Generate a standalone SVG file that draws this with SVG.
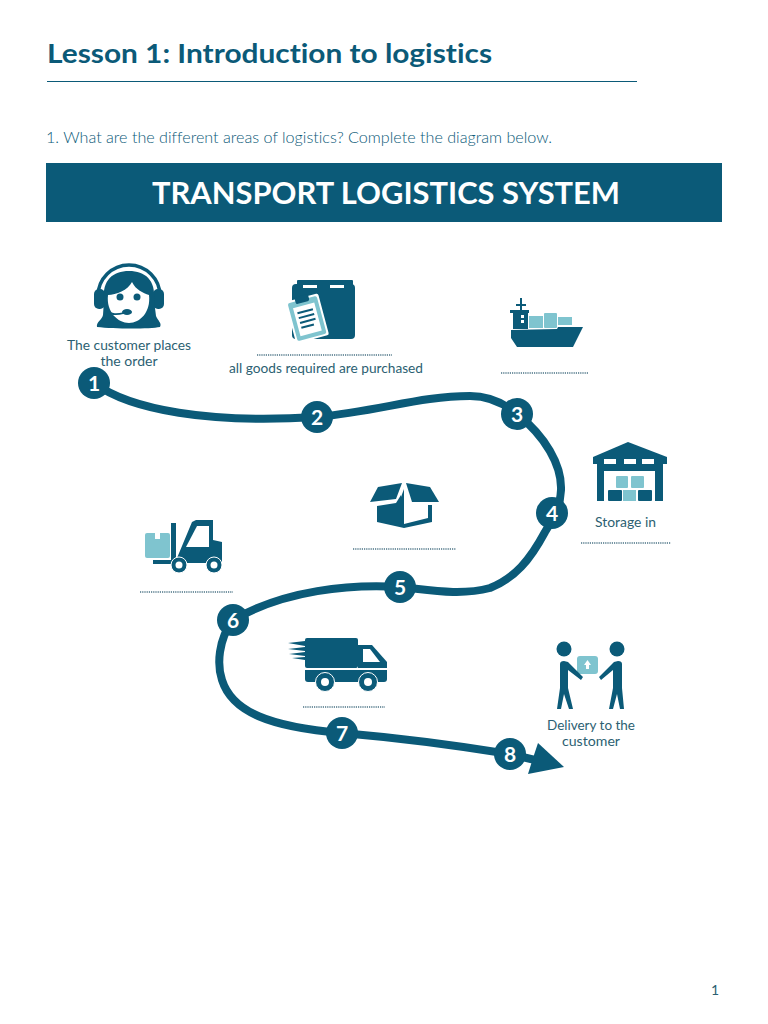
<svg xmlns="http://www.w3.org/2000/svg" width="768" height="1024" viewBox="0 0 768 1024">
<style>
text{font-variant-ligatures:none}
.d{fill:#0b5a78}.l{fill:#7fc4cf}.w{fill:#fff}
.t{font-family:Lato,"Liberation Sans",sans-serif;fill:#2c5f72;font-size:14px;text-anchor:middle}
.n{font-family:Lato,"Liberation Sans",sans-serif;font-weight:700;font-size:21px;fill:#fff;text-anchor:middle}
.dot{stroke:#4c7486;stroke-width:1.6;stroke-dasharray:1.2 1;fill:none}
.ds{fill:none;stroke:#0b5a78}
</style>
<rect width="768" height="1024" fill="#fff"/>
<text x="47" y="63" font-family="Lato,'Liberation Sans',sans-serif" font-weight="700" font-size="27" fill="#0b5a78" textLength="445" lengthAdjust="spacingAndGlyphs">Lesson 1: Introduction to logistics</text>
<line x1="47" y1="81.500" x2="637" y2="81.500" stroke="#0b5a78" stroke-width="1"/>
<text x="46" y="143" font-family="Lato,'Liberation Sans',sans-serif" font-weight="300" font-size="16.500" fill="#0b5a78" textLength="506" lengthAdjust="spacingAndGlyphs">1. What are the different areas of logistics? Complete the diagram below.</text>
<g id="banner">
<rect x="46" y="163" width="676" height="59" fill="#0b5a78"/>
<text x="386" y="204" font-family="Lato,'Liberation Sans',sans-serif" font-weight="700" font-size="31" fill="#fff" text-anchor="middle" textLength="468" lengthAdjust="spacingAndGlyphs">TRANSPORT LOGISTICS SYSTEM</text>
</g>
<g id="connectors">
<path d="M94 383C130 410 210 424 317 417C380 411 420 396 470 396C490 396 505 404 517 414C545 436 562 465 561 490C560 510 552 520 545 532C530 560 515 578 490 588C460 596 430 590 400 587C350 584 285 590 233 620C218 640 217 665 222 680C232 712 270 727 342 733C400 738 460 746 510 754L535 760" fill="none" stroke="#0b5a78" stroke-width="8" stroke-linecap="round"/>
<polygon class="d" points="538,743 564,767 528,774 533,758"/>
</g>
<g id="step1"><circle class="d" cx="94" cy="383" r="16"/><text class="n" x="94" y="391">1</text></g>
<g id="step2"><circle class="d" cx="317" cy="417" r="16"/><text class="n" x="317" y="425">2</text></g>
<g id="step3"><circle class="d" cx="517" cy="414" r="16"/><text class="n" x="517" y="422">3</text></g>
<g id="step4"><circle class="d" cx="552" cy="513" r="16"/><text class="n" x="552" y="521">4</text></g>
<g id="step5"><circle class="d" cx="400" cy="587" r="16"/><text class="n" x="400" y="595">5</text></g>
<g id="step6"><circle class="d" cx="233" cy="620" r="16"/><text class="n" x="233" y="628">6</text></g>
<g id="step7"><circle class="d" cx="342" cy="733" r="16"/><text class="n" x="342" y="741">7</text></g>
<g id="step8"><circle class="d" cx="510" cy="754" r="16"/><text class="n" x="510" y="762">8</text></g>

<g id="customer">
<path class="ds" stroke-width="3.500" d="M98 296A31 31 0 0 1 160 296"/>
<rect class="d" x="94" y="289" width="11" height="20" rx="5"/>
<rect class="d" x="153" y="289" width="11" height="20" rx="5"/>
<path class="d" d="M104 300C102 280 113 271 129 271C145 271 156 280 154 300L156 316C158 321 162 323 160 327C150 329 115 329 97 327C96 322 102 320 103 315Z"/>
<path class="w" d="M108 295C116 295 128 290 132 282C136 290 143 293 149 295C151 312 140 323 129 323C118 323 106 312 108 295Z"/>
<circle class="d" cx="120" cy="297" r="3.500"/><circle class="d" cx="137" cy="297" r="3.500"/>
<path class="ds" stroke-width="1.800" d="M106 309C110 315 116 315 124 313"/>
<ellipse class="d" cx="127" cy="312" rx="5" ry="3"/>
<text class="t" x="129" y="350" textLength="124" lengthAdjust="spacingAndGlyphs">The customer places</text>
<text class="t" x="129" y="366" textLength="57" lengthAdjust="spacingAndGlyphs">the order</text>
</g>
<g id="purchase">
<rect class="d" x="297" y="280" width="56" height="6" rx="1"/>
<rect class="d" x="292" y="284" width="63" height="55" rx="4"/>
<rect class="w" x="303" y="285" width="14" height="3"/><rect class="w" x="330" y="285" width="14" height="3"/>
<g transform="rotate(-15 307 318)">
<rect class="w" x="290" y="297" width="34" height="43" rx="2"/>
<rect class="l" x="292" y="299" width="30" height="39" rx="2"/>
<rect class="w" x="296" y="305" width="22" height="29"/>
<rect class="d" x="300" y="295" width="14" height="7" rx="2"/>
<path class="ds" stroke-width="2" d="M299 311H315M299 316H315M299 321H315M299 326H312"/>
</g>
<line class="dot" x1="257" y1="355" x2="392" y2="355"/>
<text class="t" x="326" y="373" textLength="194" lengthAdjust="spacingAndGlyphs">all goods required are purchased</text>
</g>
<g id="ship">
<rect class="d" x="520" y="298" width="2" height="13"/><rect class="d" x="516" y="304" width="10" height="2"/>
<rect class="d" x="510" y="310" width="19" height="3"/><rect class="d" x="513" y="312" width="15" height="17"/>
<rect class="w" x="521" y="315" width="3" height="3"/><rect class="w" x="521" y="320" width="3" height="3"/>
<rect class="l" x="529" y="316" width="14" height="12"/><rect class="l" x="544" y="313" width="13" height="15" rx="1"/><rect class="l" x="558" y="317" width="14" height="8"/>
<polygon class="d" points="511,330 557,329 558,327 583,327 573,347 517,347 511,338"/>
<line class="dot" x1="501" y1="373" x2="588" y2="373"/>
</g>
<g id="warehouse">
<polygon class="d" points="593,457 628,442 667,457 667,464 593,464"/>
<rect class="d" x="597" y="464" width="7" height="37"/><rect class="d" x="655" y="464" width="8" height="37"/>
<rect class="d" x="597" y="464" width="66" height="7"/>
<rect class="w" x="604" y="459" width="12" height="5"/><rect class="w" x="624" y="459" width="12" height="5"/><rect class="w" x="642" y="459" width="12" height="5"/>
<rect class="l" x="616" y="476" width="12" height="12" rx="1"/><rect class="l" x="631" y="476" width="13" height="12" rx="1"/>
<rect class="d" x="608" y="490" width="14" height="11" rx="1"/><rect class="l" x="623" y="490" width="13" height="11"/><rect class="d" x="638" y="490" width="14" height="11" rx="1"/>
<text class="t" x="625.500" y="527" textLength="61" lengthAdjust="spacingAndGlyphs">Storage in</text>
<line class="dot" x1="581" y1="543" x2="671" y2="543"/>
</g>
<g id="openbox">
<polygon class="d" points="370,502 378,487 402,483 396,499"/>
<polygon class="d" points="406,483 430,487 439,502 412,502"/>
<polygon class="d" points="377,506 396,503 401,495 401,497 404,489 404,528 377,522"/>
<polygon class="d" points="404,528 432,522 432,505 428,505 428,518 404,524"/>
<line class="dot" x1="353" y1="549" x2="456" y2="549"/>
</g>
<g id="forklift">
<rect class="l" x="145" y="533" width="25" height="25" rx="2"/>
<rect class="w" x="155" y="533" width="5" height="6"/>
<rect class="d" x="171" y="523" width="5" height="38"/>
<rect class="d" x="153" y="560" width="20" height="4"/>
<polygon class="d" points="177,558 192,522 196,520 213,520 213,540 222,542 222,563 177,563"/>
<polygon class="w" points="186,547 197,526 209,526 209,547"/>
<circle class="d" cx="179" cy="565" r="8" stroke="#fff"/><circle class="w" cx="179" cy="565" r="3.500"/>
<circle class="d" cx="214" cy="565" r="8" stroke="#fff"/><circle class="w" cx="214" cy="565" r="3.500"/>
<line class="dot" x1="140" y1="592" x2="233" y2="592"/>
</g>
<g id="truck">
<polygon class="d" points="288,643 305,641 305,646"/><polygon class="d" points="288,649 305,647 305,651"/><polygon class="d" points="289,654 305,652 305,656"/><polygon class="d" points="292,658 305,657 305,660"/>
<rect class="d" x="305" y="638" width="53" height="30" rx="2"/>
<polygon class="d" points="358,645 372,645 387,662 387,668 358,668"/>
<polygon class="w" points="363,649 370,649 380,662 363,662"/>
<path class="d" d="M305 670H387V679Q387 682 384 682H308Q305 682 305 679Z"/>
<circle class="d" cx="325" cy="682" r="9.500" stroke="#fff"/><circle class="w" cx="325" cy="682" r="4"/>
<circle class="d" cx="368" cy="682" r="9.500" stroke="#fff"/><circle class="w" cx="368" cy="682" r="4"/>
<line class="dot" x1="303" y1="707" x2="385" y2="707"/>
</g>
<g id="delivery">
<circle class="d" cx="564" cy="649" r="7.500"/><circle class="d" cx="617" cy="649" r="7.500"/>
<rect class="l" x="577" y="656" width="21" height="18" rx="3"/>
<polygon class="w" points="587.500,660 591,665 589,665 589,669 586,669 586,665 584,665"/>
<path class="d" d="M560 664Q560 661 564 661L568 662L583 677L581 680L568 670V688L573 709H569L564 694L561 709H557L560 688Z"/>
<path class="d" d="M622 664Q622 661 618 661L614 662L599 677L601 680L613 670V688L609 709H613L617 694L620 709H624L622 688Z"/>
<text class="t" x="591" y="730" textLength="88" lengthAdjust="spacingAndGlyphs">Delivery to the</text>
<text class="t" x="591" y="746" textLength="58" lengthAdjust="spacingAndGlyphs">customer</text>
</g>
<text x="715" y="995" font-family="Lato,'Liberation Sans',sans-serif" font-size="14" fill="#2c5f72" text-anchor="middle">1</text>
</svg>
